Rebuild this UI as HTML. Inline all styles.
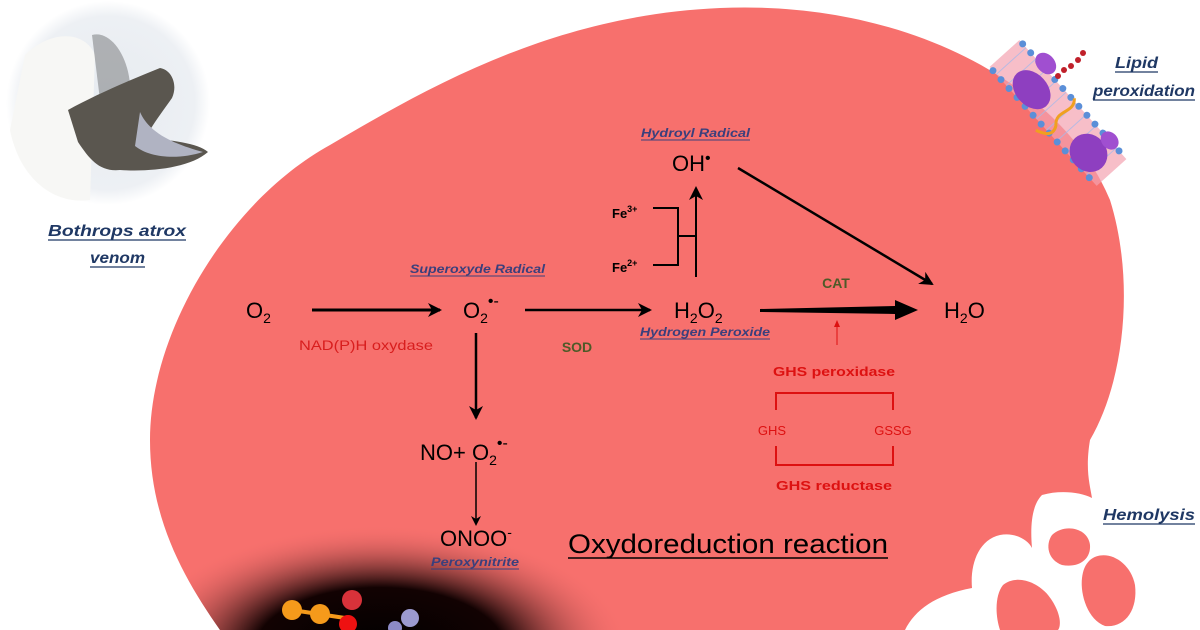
<!DOCTYPE html>
<html><head><meta charset="utf-8"><style>
html,body{margin:0;padding:0;width:1200px;height:630px;overflow:hidden;background:#fff}
svg{display:block}
</style></head><body>
<svg width="1200" height="630" viewBox="0 0 1200 630" xmlns="http://www.w3.org/2000/svg" font-family="'Liberation Sans',sans-serif">
<defs>
<radialGradient id="blk" cx="0.5" cy="0.5" r="0.5">
<stop offset="0" stop-color="#000"/><stop offset="0.5" stop-color="#120202"/><stop offset="1" stop-color="#f7706d" stop-opacity="0"/>
</radialGradient>
<radialGradient id="snk" cx="0.5" cy="0.5" r="0.5">
<stop offset="0" stop-color="#e6ebf0"/><stop offset="0.85" stop-color="#edf0f4"/><stop offset="1" stop-color="#fff"/>
</radialGradient>
<clipPath id="bc"><path d="M220 630 C185 580 150 520 150 440 C150 330 230 200 330 145 C440 80 560 15 720 8 C900 0 1060 80 1110 200 C1135 280 1125 380 1090 440 C1085 470 1090 485 1092 498 L1092 630 Z"/></clipPath>
<marker id="ah" markerWidth="10" markerHeight="10" refX="8" refY="5" orient="auto" markerUnits="userSpaceOnUse"><path d="M0 0 L10 5 L0 10 L3 5Z" fill="#000"/></marker>
<marker id="ah2" markerWidth="14" markerHeight="14" refX="12" refY="7" orient="auto" markerUnits="userSpaceOnUse"><path d="M0 0 L14 7 L0 14 L4 7Z" fill="#000"/></marker>
</defs>
<path d="M220 630 C185 580 150 520 150 440 C150 330 230 200 330 145 C440 80 560 15 720 8 C900 0 1060 80 1110 200 C1135 280 1125 380 1090 440 C1085 470 1090 485 1092 498 L1092 630 Z" fill="#f7706d"/>
<g clip-path="url(#bc)"><ellipse cx="380" cy="650" rx="250" ry="125" fill="url(#blk)"/></g>
<!-- hemolysis white area -->
<path d="M1092 498 L1200 498 L1200 630 L905 630 C915 610 935 595 972 588 C970 565 978 540 1000 535 C1015 532 1028 540 1032 548 C1030 525 1032 505 1042 495 C1060 490 1080 492 1092 498 Z" fill="#fff"/>
<g fill="#f7706d">
<path d="M1052 535 C1065 523 1088 528 1090 545 C1091 560 1078 568 1062 565 C1048 560 1045 545 1052 535Z"/>
<path d="M1090 560 C1105 548 1130 560 1135 585 C1138 610 1125 628 1105 626 C1088 620 1080 595 1082 578 C1083 570 1085 565 1090 560Z"/>
<path d="M1003 585 C1015 575 1035 580 1048 595 C1060 610 1062 625 1058 630 L1000 630 C995 615 995 595 1003 585Z"/>
</g>
<!-- molecule -->
<circle cx="292" cy="610" r="10" fill="#f59a1b"/><circle cx="320" cy="614" r="10" fill="#f59a1b"/><line x1="292" y1="610" x2="345" y2="618" stroke="#f59a1b" stroke-width="4"/>
<circle cx="352" cy="600" r="10" fill="#d8323a"/><circle cx="348" cy="624" r="9" fill="#e11"/>
<circle cx="410" cy="618" r="9" fill="#9c9ad0"/><circle cx="395" cy="628" r="7" fill="#8c8ac6"/>
<!-- snake picture -->
<circle cx="108" cy="103" r="102" fill="url(#snk)"/>
<path d="M25 55 C50 30 85 30 95 55 L90 200 C55 205 20 180 10 130Z" fill="#f7f7f5"/>
<path d="M92 35 C110 30 128 55 130 85 L100 100Z" fill="#7b7e80" opacity="0.55"/>
<path d="M68 110 C95 95 130 80 160 68 C172 70 178 85 172 98 C160 115 150 128 146 138 C170 140 198 143 208 152 C190 168 150 172 120 170 C100 172 90 160 78 142 Z" fill="#5a564f"/>
<path d="M140 112 C150 135 178 145 203 152 C178 160 150 158 135 146Z" fill="#b0b3c2"/>
<!-- membrane -->
<g transform="translate(1058,113) rotate(48)">
<rect x="-80" y="-20" width="160" height="40" fill="#f3a3b0" opacity="0.7"/>
<g stroke="#a9b9e8" stroke-width="1" opacity="0.8">
<line x1="-70" y1="-20" x2="-70" y2="20"/><line x1="-55" y1="-20" x2="-55" y2="20"/><line x1="-40" y1="-20" x2="-40" y2="20"/><line x1="-25" y1="-20" x2="-25" y2="20"/><line x1="-10" y1="-20" x2="-10" y2="20"/><line x1="5" y1="-20" x2="5" y2="20"/><line x1="20" y1="-20" x2="20" y2="20"/><line x1="35" y1="-20" x2="35" y2="20"/><line x1="50" y1="-20" x2="50" y2="20"/><line x1="65" y1="-20" x2="65" y2="20"/>
</g>
<g fill="#5b8fd8">
<circle cx="-75" cy="-20" r="3.5"/><circle cx="-63" cy="-20" r="3.5"/><circle cx="-51" cy="-20" r="3.5"/><circle cx="-39" cy="-20" r="3.5"/><circle cx="-27" cy="-20" r="3.5"/><circle cx="-15" cy="-20" r="3.5"/><circle cx="-3" cy="-20" r="3.5"/><circle cx="9" cy="-20" r="3.5"/><circle cx="21" cy="-20" r="3.5"/><circle cx="33" cy="-20" r="3.5"/><circle cx="45" cy="-20" r="3.5"/><circle cx="57" cy="-20" r="3.5"/><circle cx="69" cy="-20" r="3.5"/>
<circle cx="-75" cy="20" r="3.5"/><circle cx="-63" cy="20" r="3.5"/><circle cx="-51" cy="20" r="3.5"/><circle cx="-39" cy="20" r="3.5"/><circle cx="-27" cy="20" r="3.5"/><circle cx="-15" cy="20" r="3.5"/><circle cx="-3" cy="20" r="3.5"/><circle cx="9" cy="20" r="3.5"/><circle cx="21" cy="20" r="3.5"/><circle cx="33" cy="20" r="3.5"/><circle cx="45" cy="20" r="3.5"/><circle cx="57" cy="20" r="3.5"/><circle cx="69" cy="20" r="3.5"/>
</g>
<ellipse cx="-35" cy="4" rx="22" ry="16" fill="#8e3fc0"/>
<ellipse cx="-45" cy="-24" rx="12" ry="9" fill="#a04fd0"/>
<ellipse cx="50" cy="4" rx="20" ry="18" fill="#8e3fc0"/>
<ellipse cx="55" cy="-20" rx="10" ry="8" fill="#a04fd0"/>
<path d="M0 -22 C12 -12 -5 0 8 10 C15 20 5 25 -2 28" stroke="#f0a020" stroke-width="3" fill="none"/>
</g>
<g fill="#c0202a"><circle cx="1058" cy="76" r="3"/><circle cx="1064" cy="70" r="3"/><circle cx="1071" cy="66" r="3"/><circle cx="1078" cy="60" r="3"/><circle cx="1083" cy="53" r="3"/></g>
<!-- side labels -->
<g font-weight="bold" font-style="italic" fill="#1f3864" font-size="16">
<text x="48" y="236" textLength="138" lengthAdjust="spacingAndGlyphs">Bothrops atrox</text>
<text x="90" y="263" textLength="55" lengthAdjust="spacingAndGlyphs">venom</text>
<text x="1115" y="68" textLength="43" lengthAdjust="spacingAndGlyphs">Lipid</text>
<text x="1093" y="96" textLength="102" lengthAdjust="spacingAndGlyphs">peroxidation</text>
<text x="1103" y="520" textLength="92" lengthAdjust="spacingAndGlyphs">Hemolysis</text>
</g>
<g stroke="#1f3864" stroke-width="1.3">
<line x1="48" y1="240" x2="186" y2="240"/><line x1="90" y1="267" x2="145" y2="267"/>
<line x1="1115" y1="72" x2="1158" y2="72"/><line x1="1093" y1="100" x2="1195" y2="100"/>
<line x1="1103" y1="524" x2="1195" y2="524"/>
</g>
<!-- chemistry -->
<g font-size="22" fill="#000">
<text x="246" y="318">O<tspan font-size="14" dy="5">2</tspan></text>
<text x="463" y="318">O<tspan font-size="14" dy="5">2</tspan><tspan font-size="16" dy="-17">•-</tspan></text>
<text x="674" y="318">H<tspan font-size="14" dy="5">2</tspan><tspan dy="-5">O</tspan><tspan font-size="14" dy="5">2</tspan></text>
<text x="672" y="171">OH<tspan font-size="16" dy="-8">•</tspan></text>
<text x="944" y="318">H<tspan font-size="14" dy="5">2</tspan><tspan dy="-5">O</tspan></text>
<text x="420" y="460">NO+ O<tspan font-size="14" dy="5">2</tspan><tspan font-size="16" dy="-17">•-</tspan></text>
<text x="476" y="546" text-anchor="middle">ONOO<tspan font-size="14" dy="-9">-</tspan></text>
<text x="568" y="553" font-size="27" textLength="320" lengthAdjust="spacingAndGlyphs">Oxydoreduction reaction</text>
</g>
<line x1="568" y1="558" x2="888" y2="558" stroke="#000" stroke-width="1.5"/>
<g font-size="12" font-weight="bold" font-style="italic" fill="#3b3f7c" lengthAdjust="spacingAndGlyphs">
<text x="410" y="273" textLength="135" lengthAdjust="spacingAndGlyphs">Superoxyde Radical</text>
<text x="640" y="336" textLength="130" lengthAdjust="spacingAndGlyphs">Hydrogen Peroxide</text>
<text x="641" y="137" textLength="109" lengthAdjust="spacingAndGlyphs">Hydroyl Radical</text>
<text x="431" y="566" textLength="88" lengthAdjust="spacingAndGlyphs">Peroxynitrite</text>
</g>
<g stroke="#3b3f7c" stroke-width="1">
<line x1="410" y1="276" x2="545" y2="276"/><line x1="640" y1="339" x2="770" y2="339"/>
<line x1="641" y1="140" x2="750" y2="140"/><line x1="431" y1="569" x2="519" y2="569"/>
</g>
<g font-size="13" fill="#000" font-weight="bold">
<text x="612" y="218">Fe<tspan font-size="9" dy="-6">3+</tspan></text>
<text x="612" y="272">Fe<tspan font-size="9" dy="-6">2+</tspan></text>
</g>
<text x="299" y="350" font-size="14" fill="#d81e1e" textLength="134" lengthAdjust="spacingAndGlyphs">NAD(P)H oxydase</text>
<text x="577" y="352" font-size="14" fill="#4e5a28" font-weight="bold" text-anchor="middle">SOD</text>
<text x="836" y="288" font-size="14" fill="#4e5a28" font-weight="bold" text-anchor="middle">CAT</text>
<g fill="#d11" font-size="13">
<text x="773" y="376" font-weight="bold" textLength="122" lengthAdjust="spacingAndGlyphs">GHS peroxidase</text>
<text x="776" y="490" font-weight="bold" textLength="116" lengthAdjust="spacingAndGlyphs">GHS reductase</text>
<text x="772" y="435" text-anchor="middle">GHS</text>
<text x="893" y="435" text-anchor="middle">GSSG</text>
</g>
<path d="M776 410 V393 H893 V410 M776 446 V465 H893 V446" stroke="#d11" stroke-width="2" fill="none"/>
<line x1="837" y1="345" x2="837" y2="325" stroke="#d11" stroke-width="1"/>
<path d="M834 327 L837 320 L840 327Z" fill="#d11"/>
<!-- arrows -->
<g stroke="#000" fill="none">
<line x1="312" y1="310" x2="440" y2="310" stroke-width="3" marker-end="url(#ah2)"/>
<line x1="525" y1="310" x2="650" y2="310" stroke-width="2.5" marker-end="url(#ah2)"/>
<line x1="696" y1="277" x2="696" y2="188" stroke-width="2" marker-end="url(#ah2)"/>
<path d="M653 208 H678 V265 H653 M678 236 H696" stroke-width="2"/>
<line x1="738" y1="168" x2="932" y2="284" stroke-width="2.5" marker-end="url(#ah2)"/>
<line x1="476" y1="333" x2="476" y2="418" stroke-width="2.5" marker-end="url(#ah2)"/>
<line x1="476" y1="462" x2="476" y2="524" stroke-width="1.5" marker-end="url(#ah)"/>
</g>
<path d="M760 309 L895 306 L895 300 L918 310 L895 320 L895 314 L760 312Z" fill="#000"/>
</svg>
</body></html>
